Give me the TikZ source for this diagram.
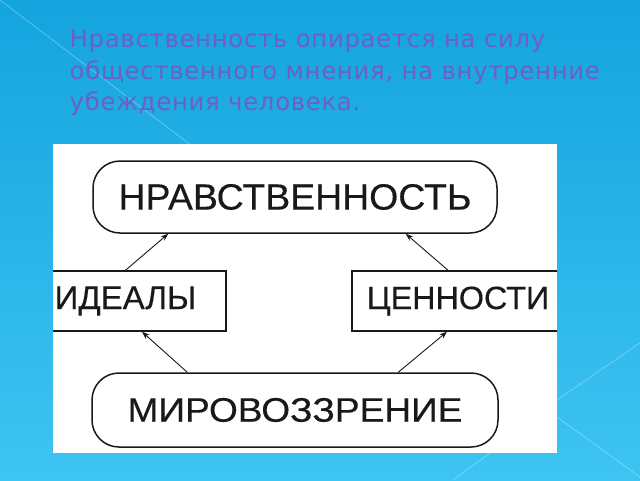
\documentclass[tikz,border=0pt]{standalone}
\usepackage{fontspec}
\setmainfont{Liberation Sans}[FakeBold=0.35]
\newfontfamily\headfont{DejaVu Sans}[LetterSpace=3]
\usetikzlibrary{arrows.meta}
\definecolor{bgtop}{RGB}{20,164,222}
\definecolor{bgbot}{RGB}{62,196,242}
\definecolor{headcol}{RGB}{112,94,196}
\definecolor{ink}{RGB}{25,25,25}
\tikzset{
  headline/.style={anchor=base west, inner sep=0pt, text=headcol,
    font=\headfont\fontsize{24.3}{28}\selectfont},
  facet/.style={draw=white, draw opacity=0.3, line width=0.8pt},
  roundbox/.style={draw=ink, line width=1.5pt, rounded corners=27pt,
    inner sep=0pt, text=ink},
  sqbox/.style={draw=ink, line width=1.5pt, inner sep=0pt, text=ink},
  arr/.style={draw=ink, line width=0.9pt, -{Stealth[length=7.5pt,width=5.5pt]}}
}
\begin{document}
\begin{tikzpicture}[x=1pt,y=-1pt]
\useasboundingbox (0,0) rectangle (640,480);
\shade[top color=bgtop, bottom color=bgbot] (0,0) rectangle (640,480);
% background facets
\draw[facet] (0,0) -- (192,146);
\draw[facet] (557,400) -- (640,343);
\draw[facet] (557,417) -- (640,477);
\draw[facet] (453,480) -- (490,453);
% heading
\node[headline] (h1) at (69.5,47) {Нравственность опирается на силу};
\node[headline] (h2) at (69.5,79) {общественного мнения, на внутренние};
\node[headline] (h3) at (69.5,110.5) {убеждения человека.};
% white panel
\fill[white] (53,144) rectangle (557,453);
\begin{scope}
\clip (53,144) rectangle (557,453);
\node[roundbox, minimum width=404pt, minimum height=72pt,
  font=\fontsize{36.5}{40}\selectfont] (top) at (295,197)
  {\scalebox{1.025}[1]{НРАВСТВЕННОСТЬ}};
\node[sqbox, minimum width=201pt, minimum height=60pt,
  font=\fontsize{33}{36}\selectfont] (ideal) at (125.5,301) {ИДЕАЛЫ};
\node[sqbox, minimum width=212pt, minimum height=60pt,
  font=\fontsize{32.3}{36}\selectfont] (cen) at (458,301) {ЦЕННОСТИ};
\node[roundbox, minimum width=406pt, minimum height=74pt,
  font=\fontsize{34}{38}\selectfont] (bot) at (295,410)
  {\scalebox{1.09}[1]{МИРОВОЗЗРЕНИЕ}};
\draw[arr] (ideal.north) -- ([xshift=76pt]top.south west);
\draw[arr] ([xshift=-10pt]cen.north) -- ([xshift=-92pt]top.south east);
\draw[arr] ([xshift=96pt]bot.north west) -- ([xshift=16.5pt]ideal.south);
\draw[arr] ([xshift=307pt]bot.north west) -- ([xshift=-11pt]cen.south);
\end{scope}
\end{tikzpicture}
\end{document}
